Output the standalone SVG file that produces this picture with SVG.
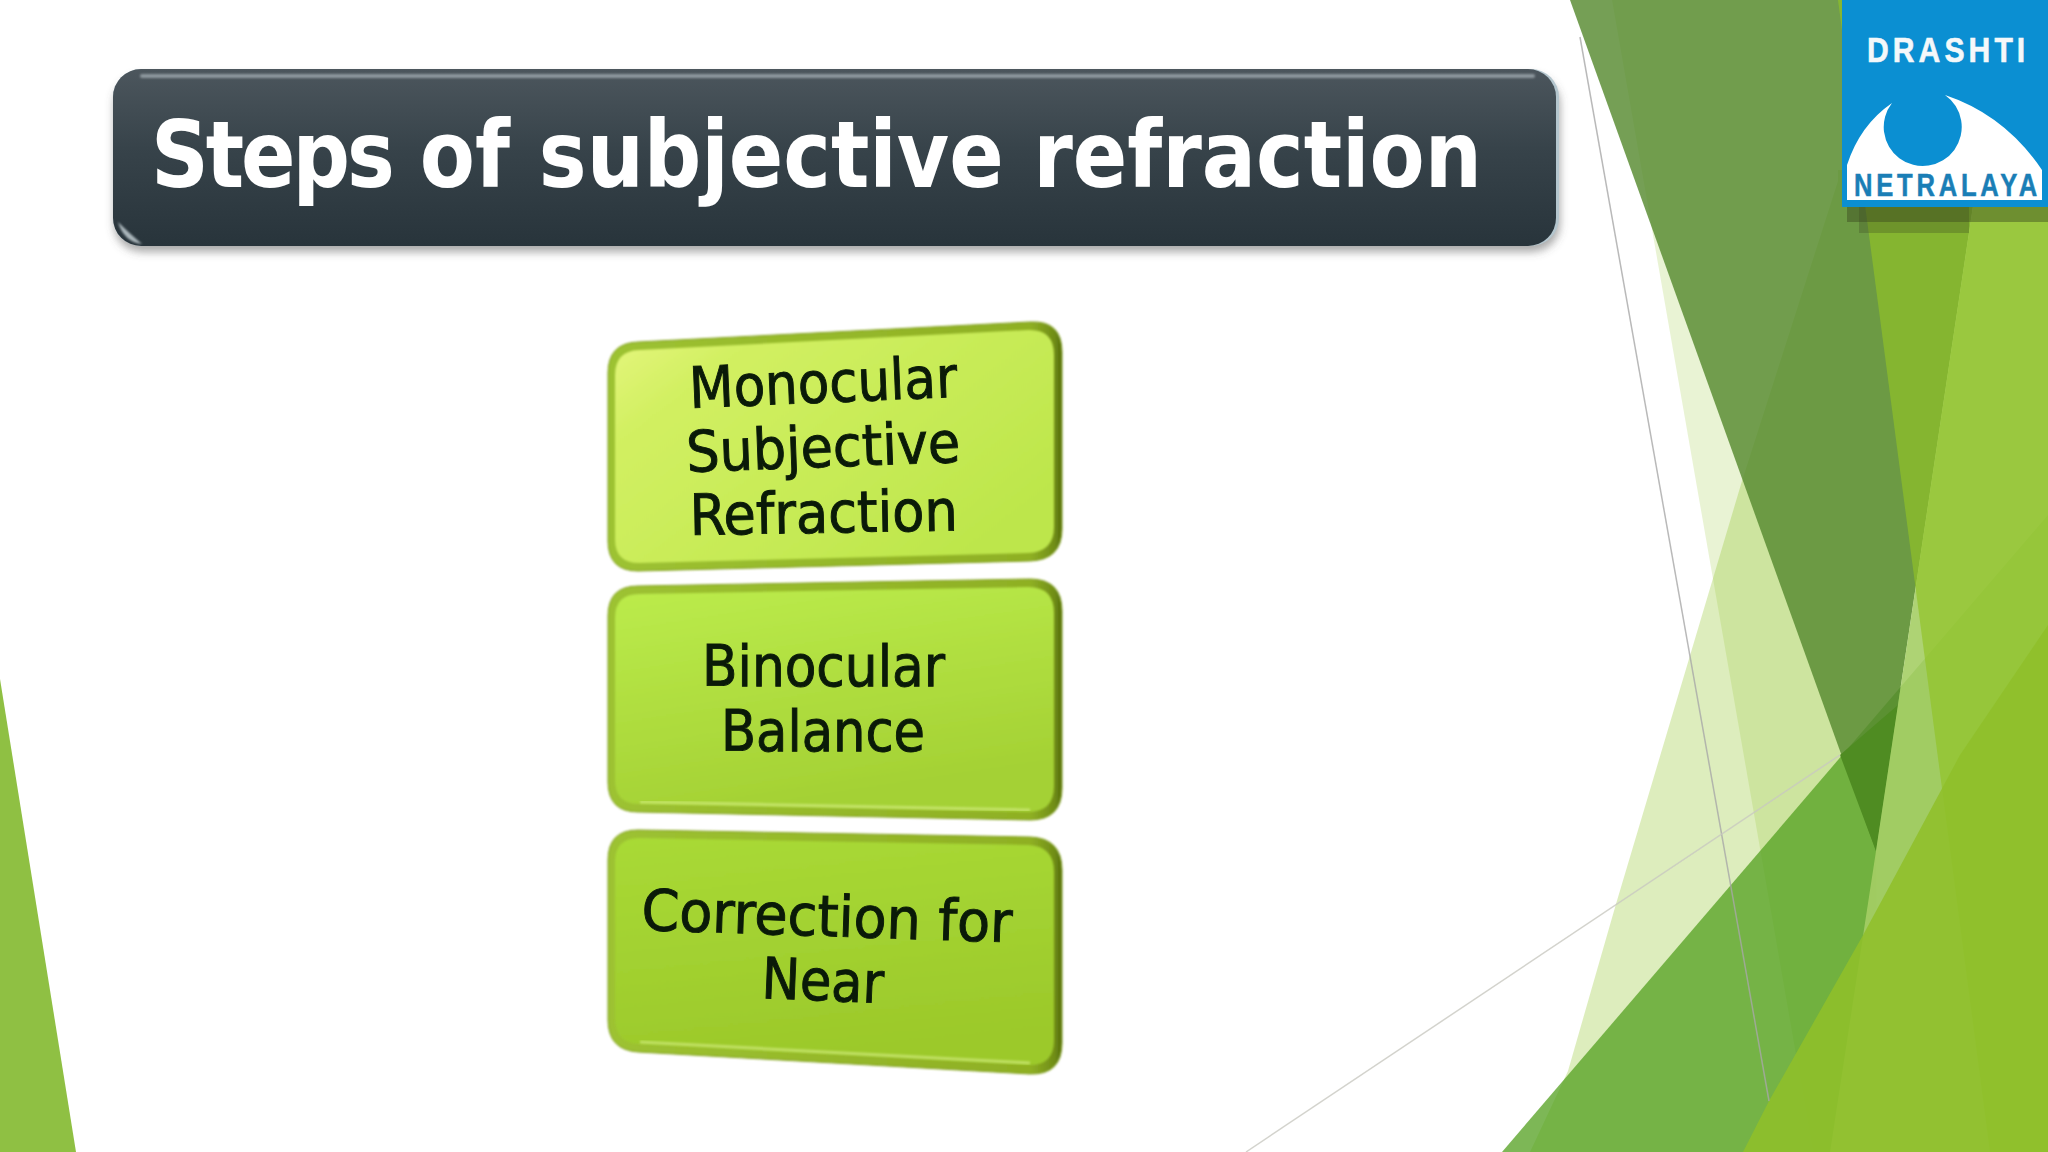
<svg xmlns="http://www.w3.org/2000/svg" width="2048" height="1152" viewBox="0 0 2048 1152">
<style>
.t{font-family:"DejaVu Sans","Noto Sans",sans-serif;font-stretch:condensed;fill:#0a1a08;stroke:#0a1a08;stroke-width:.9px;font-size:57px;text-anchor:start}
.r{fill:url(#rim);stroke:#7f9e1e;stroke-width:1;filter:url(#soft)}
.i{filter:url(#soft)}
.h{fill:none;stroke:#d8f08a;stroke-opacity:.6;stroke-width:3;filter:url(#soft)}
.lg{font-family:"Liberation Sans",Arial,sans-serif;font-weight:bold}
</style>
<defs>
<linearGradient id="bar" x1="0" y1="0" x2="0" y2="1"><stop offset="0" stop-color="#4c565d"/><stop offset=".45" stop-color="#37434a"/><stop offset="1" stop-color="#28343b"/></linearGradient>
<linearGradient id="rim" x1="0" y1="0" x2="1" y2="0"><stop offset="0" stop-color="#9dc232"/><stop offset=".93" stop-color="#8fb024"/><stop offset=".985" stop-color="#6f8c16"/><stop offset="1" stop-color="#4f680c"/></linearGradient>
<linearGradient id="f1" x1="0" y1="0" x2="1" y2=".7"><stop offset="0" stop-color="#e6f67e"/><stop offset=".22" stop-color="#d2f062"/><stop offset="1" stop-color="#bde64b"/></linearGradient>
<linearGradient id="f2" x1="0" y1="0" x2=".3" y2="1"><stop offset="0" stop-color="#bcec4c"/><stop offset="1" stop-color="#a4d134"/></linearGradient>
<linearGradient id="f3" x1="0" y1="0" x2=".2" y2="1"><stop offset="0" stop-color="#a9da36"/><stop offset="1" stop-color="#9cc92b"/></linearGradient>
<filter id="blur" x="-5%" y="-20%" width="110%" height="140%"><feGaussianBlur stdDeviation="4"/></filter>
<filter id="soft" x="-5%" y="-5%" width="110%" height="110%"><feGaussianBlur stdDeviation=".9"/></filter>
<filter id="soft2" x="-5%" y="-200%" width="110%" height="500%"><feGaussianBlur stdDeviation="1.2"/></filter>
</defs>
<rect width="2048" height="1152" fill="#fff"/>
<g id="background">
<polygon points="0,679 76,1152 0,1152" fill="#8fc043"/>
<polygon points="1612,0 1813,1152 1880,1152 1876,851 2004,0" fill="#90c226" fill-opacity=".2"/>
<polygon points="1838,170 1838,181 1742,481 1689,659 1616,904 1568,1071 1530,1152 1880,1152 1876,851 1978,170" fill="#90c226" fill-opacity=".3"/>
<polygon points="1502,1152 2048,515 2048,1152" fill="#54a021" fill-opacity=".76"/>
<polygon points="1570,0 2004,0 1876,851" fill="#578a30" fill-opacity=".82"/>
<polygon points="1840,755 1876,851 1898,705" fill="#4f8c22"/>
<polygon points="2004,0 2048,0 2048,1152 1830,1152 1876,851" fill="#a5ce65" fill-opacity=".9"/>
<polygon points="1838,0 2048,0 2048,1152 1990,1152" fill="#90c226" fill-opacity=".68"/>
<polygon points="1743,1152 1769,1101 1862,937 1888,889 1960,755 2048,625 2048,1152" fill="#8fbf2a" fill-opacity=".88"/>
<line x1="1580" y1="37" x2="1769" y2="1101" stroke="#a8a8a8" stroke-opacity=".8" stroke-width="1.5"/>
<line x1="1246" y1="1152" x2="1840" y2="755" stroke="#c8c8c0" stroke-opacity=".8" stroke-width="1.5"/>
</g>
<g id="title">
<rect x="114" y="76" width="1446" height="176" rx="28" fill="#555" fill-opacity=".5" filter="url(#blur)"/>
<rect x="113" y="69" width="1446" height="177" rx="28" fill="#b4c6ce"/>
<rect x="113" y="69" width="1443" height="177" rx="28" fill="url(#bar)"/>
<rect x="140" y="74" width="1395" height="4" rx="2" fill="#8d979d" filter="url(#soft2)"/>
<path d="M118,222 Q124,242 142,244 Q128,232 118,222Z" fill="#aab6bb" filter="url(#soft)"/>
<text transform="translate(151,187) scale(.96,1)" x="0" y="0" font-family="'DejaVu Sans','Noto Sans',sans-serif" font-weight="bold" font-size="93" style="font-stretch:condensed" fill="#fff"><tspan style="letter-spacing:-3.2px">Steps</tspan> <tspan x="280">of</tspan> <tspan x="404">subjective</tspan> <tspan x="919">refraction</tspan></text>
</g>
<g id="node-monocular">
<path class="r" d="M638,342 L1030,322 Q1062,320 1062,352 L1062,529 Q1062,560 1030,561 L638,571 Q608,571 608,541 L608,373 Q608,343 638,342Z"/>
<path class="i" fill="url(#f1)" d="M639,350 L1028,330 Q1054,329 1054,355 L1054,527 Q1054,552 1028,553 L639,563 Q615,563 615,539 L615,375 Q615,351 639,350Z"/>
<text class="t" transform="translate(690,408) rotate(-2.4)" textLength="268" lengthAdjust="spacingAndGlyphs">Monocular</text>
<text class="t" transform="translate(687,472) rotate(-2.1)" textLength="274" lengthAdjust="spacingAndGlyphs">Subjective</text>
<text class="t" transform="translate(690,535) rotate(-1)" textLength="268" lengthAdjust="spacingAndGlyphs">Refraction</text>
</g>
<g id="node-binocular">
<path class="r" d="M638,586 L1030,579 Q1062,579 1062,611 L1062,788 Q1062,820 1030,820 L638,812 Q608,812 608,782 L608,616 Q608,586 638,586Z"/>
<path class="i" fill="url(#f2)" d="M639,594 L1028,587 Q1054,587 1054,613 L1054,786 Q1054,812 1028,812 L639,804 Q615,804 615,780 L615,618 Q615,594 639,594Z"/>
<path class="h" d="M640,802 L1030,810"/>
<text class="t" x="702" y="686" textLength="243" lengthAdjust="spacingAndGlyphs">Binocular</text>
<text class="t" x="721" y="751" textLength="204" lengthAdjust="spacingAndGlyphs">Balance</text>
</g>
<g id="node-correction">
<path class="r" d="M638,830 L1030,837 Q1062,838 1062,870 L1062,1043 Q1062,1075 1030,1074 L638,1052 Q608,1050 608,1020 L608,860 Q608,830 638,830Z"/>
<path class="i" fill="url(#f3)" d="M639,838 L1028,845 Q1054,846 1054,872 L1054,1040 Q1054,1066 1028,1065 L639,1044 Q615,1043 615,1018 L615,862 Q615,838 639,838Z"/>
<path class="h" d="M640,1042 L1030,1063"/>
<text class="t" transform="translate(641,930) rotate(1.9)" textLength="371" lengthAdjust="spacingAndGlyphs">Correction for</text>
<text class="t" transform="translate(761,998) rotate(2.4)" textLength="122" lengthAdjust="spacingAndGlyphs">Near</text>
</g>
<g id="logo">
<rect x="1847" y="207" width="201" height="15" fill="#3a4a20" fill-opacity=".45"/>
<rect x="1859" y="207" width="110" height="26" fill="#3a4a20" fill-opacity=".3"/>
<rect x="1842" y="0" width="206" height="207" fill="#0b8fd2"/>
<path d="M1847,200 L1847,165 Q1860,125 1892,103 A39,39 0 1 0 1945,95 Q2005,115 2042,170 L2042,200Z" fill="#fff"/>
<text class="lg" transform="translate(1867,62) scale(.86,1)" font-size="35" fill="#f4f8fa" stroke="#f4f8fa" stroke-width=".6" textLength="184" lengthAdjust="spacing">DRASHTI</text>
<text class="lg" transform="translate(1854,196) scale(.8,1)" font-size="32" fill="#1a7eb6" stroke="#1a7eb6" stroke-width=".5" textLength="229" lengthAdjust="spacing">NETRALAYA</text>
</g>
</svg>
